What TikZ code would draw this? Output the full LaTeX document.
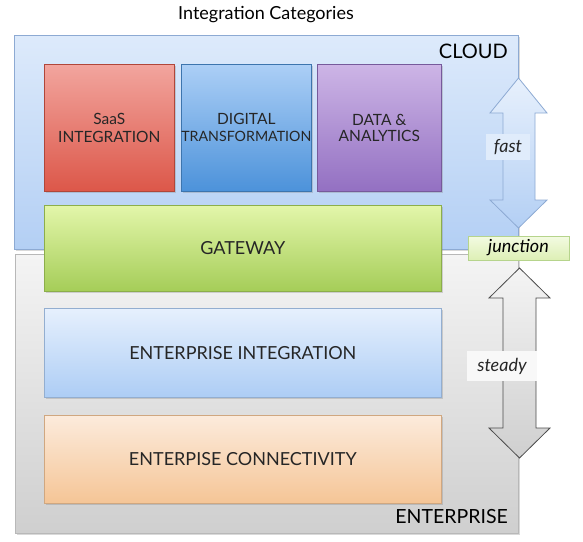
\documentclass[tikz,border=0pt]{standalone}
\usepackage{fontspec}
\setmainfont{Lato}
\usetikzlibrary{shadows}
\definecolor{cloudA}{HTML}{DDEAFB}
\definecolor{cloudB}{HTML}{B3CFF4}
\definecolor{cloudD}{HTML}{8DAAD3}
\definecolor{entA}{HTML}{F4F4F4}
\definecolor{entB}{HTML}{CFCFCF}
\definecolor{entD}{HTML}{B8B8B8}
\definecolor{redA}{HTML}{F2A59E}
\definecolor{redB}{HTML}{DC5749}
\definecolor{blueA}{HTML}{ACCFF6}
\definecolor{blueB}{HTML}{4C92DA}
\definecolor{purA}{HTML}{CDB5E6}
\definecolor{purB}{HTML}{9370C2}
\definecolor{grnA}{HTML}{E3F6AA}
\definecolor{grnB}{HTML}{A5CD58}
\definecolor{eiA}{HTML}{E6F0FD}
\definecolor{eiB}{HTML}{ADCDF5}
\definecolor{ecA}{HTML}{FCEBDC}
\definecolor{ecB}{HTML}{F5C596}
\definecolor{jnA}{HTML}{F3FBE2}
\definecolor{jnB}{HTML}{DDEFB5}
\definecolor{jnD}{HTML}{B6D48C}
\begin{document}
\begin{tikzpicture}[x=1pt,y=-1pt,
  layer/.style n args={3}{draw=#1, line width=0.6pt, top color=#2, bottom color=#3,
    drop shadow={shadow xshift=1.5pt, shadow yshift=-1.5pt, opacity=0.3},
    anchor=north west, inner sep=0pt, align=center},
  lbl/.style={font=\fontsize{15.5}{18}\selectfont, text=black!85},
  big/.style={font=\fontsize{18}{21}\selectfont, text=black!85},
  ital/.style={font=\fontsize{18}{21}\selectfont\itshape, text=black!85, inner sep=2pt}]
\useasboundingbox (0,0) rectangle (583,541);

% title
\node (title) at (266,15) {\fontsize{18}{21}\selectfont Integration Categories};

% outer areas
\node (ent) [layer={entD}{entA}{entB}, minimum width=503pt, minimum height=279pt] at (15,254) {};
\node (cloud) [layer={cloudD}{cloudA}{cloudB}, minimum width=504pt, minimum height=214pt] at (14,35) {};
\node (cloudlbl) [anchor=east, inner sep=0pt] at (508,51) {\fontsize{20}{23}\selectfont CLOUD};
\node (entlbl) [anchor=east, inner sep=0pt] at (508,517) {\fontsize{19.5}{22}\selectfont ENTERPRISE};

% cloud categories
\node (saas) [layer={redB!80!black}{redA}{redB}, lbl, minimum width=130pt, minimum height=127pt] at (44,64)
  {SaaS\\INTEGRATION};
\node (digital) [layer={blueB!80!black}{blueA}{blueB}, lbl, minimum width=129pt, minimum height=127pt] at (181,64)
  {DIGITAL\\[-1pt]{\fontsize{14.2}{17}\selectfont TRANSFORMATION}};
\node (data) [layer={purB!80!black}{purA}{purB}, lbl, minimum width=124pt, minimum height=127pt] at (317,64)
  {DATA \&\\[-2pt]ANALYTICS};

% gateway and enterprise layers
\node (gateway) [layer={grnB!85!black}{grnA}{grnB}, big, minimum width=397pt, minimum height=86pt] at (44,205) {GATEWAY};
\node (ei) [layer={eiB!85!black}{eiA}{eiB}, big, minimum width=397pt, minimum height=89pt] at (44,308) {ENTERPRISE INTEGRATION};
\node (ec) [layer={ecB!85!black}{ecA}{ecB}, big, minimum width=397pt, minimum height=88pt] at (44,415) {ENTERPISE CONNECTIVITY};

% fast arrow
\path[draw=cloudD, line width=0.8pt, top color=cloudA!70!white, bottom color=cloudB]
  (518.5,78) -- (547,113) -- (535,113) -- (535,200) -- (547,200) -- (518.5,228)
  -- (490,200) -- (503,200) -- (503,113) -- (490,113) -- cycle;
\node (fast) [ital, fill=cloudA!90!white, minimum height=26pt, minimum width=44pt] at (508,147) {fast};

% junction
\node (junction) [draw=jnD, line width=0.6pt, top color=jnA, bottom color=jnB,
  drop shadow={shadow xshift=1pt, shadow yshift=-1pt, opacity=0.25},
  minimum width=101pt, minimum height=24pt, inner sep=0pt,
  font=\fontsize{18}{21}\selectfont\itshape] at (518.5,248) {junction};

% steady arrow
\path[draw=black!70, line width=0.8pt, top color=entA, bottom color=entB]
  (519.5,268) -- (550,298) -- (536,298) -- (536,428) -- (550,428) -- (519.5,458)
  -- (489,428) -- (503,428) -- (503,298) -- (489,298) -- cycle;
\node (steady) [ital, fill=entA!60!white, minimum height=30pt, minimum width=70pt] at (502,366) {steady};
\end{tikzpicture}
\end{document}
